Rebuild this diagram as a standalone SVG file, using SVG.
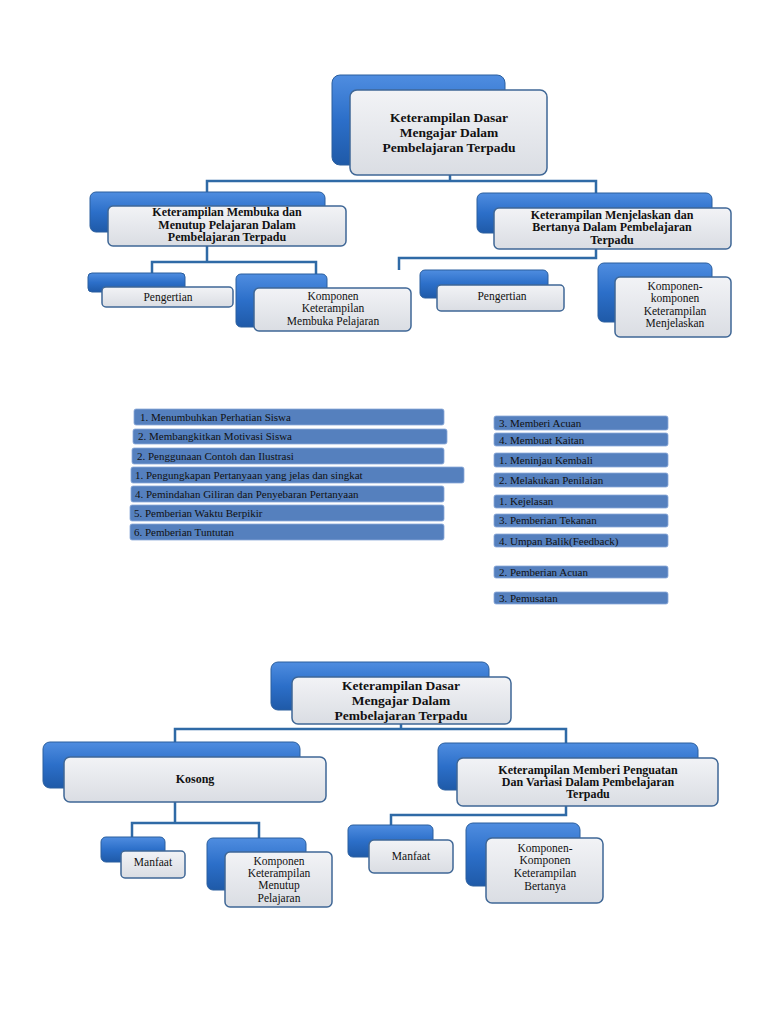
<svg xmlns="http://www.w3.org/2000/svg" width="768" height="1024" viewBox="0 0 768 1024">
<defs>
<linearGradient id="bl" x1="0" y1="0" x2="0" y2="1"><stop offset="0" stop-color="#4f8de0"/><stop offset="0.5" stop-color="#2c6fc9"/><stop offset="1" stop-color="#1f5aa8"/></linearGradient>
<linearGradient id="gr" x1="0" y1="0" x2="0" y2="1"><stop offset="0" stop-color="#f2f3f6"/><stop offset="1" stop-color="#dadde3"/></linearGradient>
</defs>
<style>
.b{fill:url(#bl);stroke:#2a5e9e;stroke-width:1}
.g{fill:url(#gr);stroke:#3f6796;stroke-width:1.5}
.c{fill:none;stroke:#2f6aa6;stroke-width:2.5}
.t{font-family:"Liberation Serif",serif;fill:#111;text-anchor:middle}
.h{font-size:13.5px;font-weight:bold}
.m{font-size:12px;font-weight:bold}
.s{font-size:11.5px}
.l{fill:#5580be;stroke:#8aa8d8;stroke-width:0.8}
.lt{font-family:"Liberation Serif",serif;font-size:11px;fill:#111}
</style>
<g id="connectors">
<path class="c" d="M450,175V181M207,192V181H596V193"/>
<path class="c" d="M207,246V262M152,275V262H316V275"/>
<path class="c" d="M596,249V258H399V270"/>
<path class="c" d="M401,724V729M175,742V729H566V743"/>
<path class="c" d="M175,802V823M132,838V823H259V838"/>
<path class="c" d="M566,806V815H391V826"/>
</g>
<g id="n1"><rect class="b" x="332" y="75" width="173" height="90" rx="8"/><rect class="g" x="350" y="90" width="197" height="85" rx="7"/>
<text class="t h" x="449" y="122">Keterampilan Dasar</text><text class="t h" x="449" y="137">Mengajar Dalam</text><text class="t h" x="449" y="152">Pembelajaran Terpadu</text></g>
<g id="n2"><rect class="b" x="90" y="192" width="235" height="40" rx="6"/><rect class="g" x="108" y="206" width="238" height="40" rx="5"/>
<text class="t m" x="227" y="216">Keterampilan Membuka dan</text><text class="t m" x="227" y="229">Menutup Pelajaran Dalam</text><text class="t m" x="227" y="241">Pembelajaran Terpadu</text></g>
<g id="n3"><rect class="b" x="477" y="193" width="235" height="40" rx="6"/><rect class="g" x="494" y="208" width="237" height="41" rx="5"/>
<text class="t m" x="612" y="219">Keterampilan Menjelaskan dan</text><text class="t m" x="612" y="231">Bertanya Dalam Pembelajaran</text><text class="t m" x="612" y="244">Terpadu</text></g>
<g id="n4"><rect class="b" x="88" y="273" width="97" height="19" rx="4"/><rect class="g" x="102" y="287" width="131" height="20" rx="4"/>
<text class="t s" x="168" y="301">Pengertian</text></g>
<g id="n5"><rect class="b" x="236" y="274" width="91" height="53" rx="5"/><rect class="g" x="254" y="288" width="157" height="43" rx="5"/>
<text class="t s" x="333" y="300">Komponen</text><text class="t s" x="333" y="312">Keterampilan</text><text class="t s" x="333" y="325">Membuka Pelajaran</text></g>
<g id="n6"><rect class="b" x="420" y="270" width="128" height="28" rx="5"/><rect class="g" x="437" y="285" width="127" height="26" rx="4"/>
<text class="t s" x="502" y="300">Pengertian</text></g>
<g id="n7"><rect class="b" x="598" y="263" width="114" height="59" rx="6"/><rect class="g" x="615" y="277" width="116" height="60" rx="5"/>
<text class="t s" x="675" y="290">Komponen-</text><text class="t s" x="675" y="302">komponen</text><text class="t s" x="675" y="315">Keterampilan</text><text class="t s" x="675" y="327">Menjelaskan</text></g>
<g id="list">
<rect class="l" x="134" y="409" width="310" height="16" rx="2"/><text class="lt" x="140" y="421">1. Menumbuhkan Perhatian Siswa</text>
<rect class="l" x="133" y="429" width="314" height="15" rx="2"/><text class="lt" x="138" y="440">2. Membangkitkan Motivasi Siswa</text>
<rect class="l" x="132" y="448" width="312" height="16" rx="2"/><text class="lt" x="137" y="460">2. Penggunaan Contoh dan Ilustrasi</text>
<rect class="l" x="131" y="467" width="333" height="16" rx="2"/><text class="lt" x="135" y="479">1. Pengungkapan Pertanyaan yang jelas dan singkat</text>
<rect class="l" x="131" y="486" width="313" height="16" rx="2"/><text class="lt" x="135" y="498">4. Pemindahan Giliran dan Penyebaran Pertanyaan</text>
<rect class="l" x="130" y="505" width="314" height="16" rx="2"/><text class="lt" x="134" y="517">5. Pemberian Waktu Berpikir</text>
<rect class="l" x="130" y="524" width="314" height="16" rx="2"/><text class="lt" x="134" y="536">6. Pemberian Tuntutan</text>
<rect class="l" x="494" y="416" width="174" height="14" rx="2"/><text class="lt" x="499" y="427">3. Memberi Acuan</text>
<rect class="l" x="494" y="433" width="174" height="13" rx="2"/><text class="lt" x="499" y="444">4. Membuat Kaitan</text>
<rect class="l" x="494" y="453" width="174" height="14" rx="2"/><text class="lt" x="499" y="464">1. Meninjau Kembali</text>
<rect class="l" x="494" y="473" width="174" height="14" rx="2"/><text class="lt" x="499" y="484">2. Melakukan Penilaian</text>
<rect class="l" x="494" y="495" width="174" height="13" rx="2"/><text class="lt" x="499" y="505">1. Kejelasan</text>
<rect class="l" x="494" y="514" width="174" height="13" rx="2"/><text class="lt" x="499" y="524">3. Pemberian Tekanan</text>
<rect class="l" x="494" y="534" width="174" height="13" rx="2"/><text class="lt" x="499" y="545">4. Umpan Balik(Feedback)</text>
<rect class="l" x="494" y="566" width="174" height="12" rx="2"/><text class="lt" x="499" y="576">2. Pemberian Acuan</text>
<rect class="l" x="494" y="592" width="174" height="12" rx="2"/><text class="lt" x="499" y="602">3. Pemusatan</text>
</g>
<g id="n8"><rect class="b" x="271" y="662" width="218" height="48" rx="7"/><rect class="g" x="292" y="677" width="219" height="47" rx="6"/>
<text class="t h" x="401" y="690">Keterampilan Dasar</text><text class="t h" x="401" y="705">Mengajar Dalam</text><text class="t h" x="401" y="720">Pembelajaran Terpadu</text></g>
<g id="n9"><rect class="b" x="43" y="742" width="257" height="46" rx="7"/><rect class="g" x="64" y="757" width="262" height="45" rx="6"/>
<text class="t m" x="195" y="783">Kosong</text></g>
<g id="n10"><rect class="b" x="438" y="743" width="260" height="47" rx="7"/><rect class="g" x="457" y="758" width="261" height="48" rx="6"/>
<text class="t m" x="588" y="774">Keterampilan Memberi Penguatan</text><text class="t m" x="588" y="786">Dan Variasi Dalam Pembelajaran</text><text class="t m" x="588" y="798">Terpadu</text></g>
<g id="n11"><rect class="b" x="101" y="837" width="64" height="25" rx="5"/><rect class="g" x="121" y="851" width="64" height="27" rx="4"/>
<text class="t s" x="153" y="866">Manfaat</text></g>
<g id="n12"><rect class="b" x="207" y="838" width="99" height="52" rx="6"/><rect class="g" x="225" y="852" width="107" height="55" rx="5"/>
<text class="t s" x="279" y="865">Komponen</text><text class="t s" x="279" y="877">Keterampilan</text><text class="t s" x="279" y="889">Menutup</text><text class="t s" x="279" y="902">Pelajaran</text></g>
<g id="n13"><rect class="b" x="348" y="825" width="85" height="32" rx="5"/><rect class="g" x="369" y="840" width="84" height="33" rx="5"/>
<text class="t s" x="411" y="860">Manfaat</text></g>
<g id="n14"><rect class="b" x="466" y="823" width="114" height="63" rx="7"/><rect class="g" x="486" y="838" width="117" height="65" rx="6"/>
<text class="t s" x="545" y="852">Komponen-</text><text class="t s" x="545" y="864">Komponen</text><text class="t s" x="545" y="877">Keterampilan</text><text class="t s" x="545" y="890">Bertanya</text></g>
</svg>
